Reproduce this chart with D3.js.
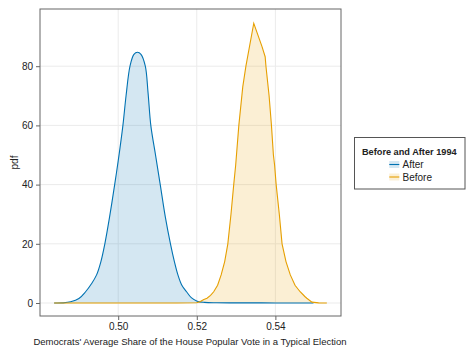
<!DOCTYPE html>
<html><head><meta charset="utf-8">
<script src="https://cdn.jsdelivr.net/npm/d3@7"></script>
<style>
body{margin:0;background:#fff;}
text{font-family:"Liberation Sans",Arial,sans-serif;fill:#222;}
</style></head>
<body><svg id="c" width="474" height="355"></svg>
<script>
const afterX = [0.4837,0.4860,0.4879,0.4900,0.4917,0.4932,0.4945,0.4956,0.4966,0.4978,0.4991,0.5000,0.5012,0.5020,0.5030,0.5040,0.5049,0.5058,0.5069,0.5076,0.5083,0.5095,0.5107,0.5120,0.5133,0.5143,0.5152,0.5162,0.5174,0.5186,0.5201,0.5220,0.5250,0.5300,0.5400,0.5497];
const afterY = [0,0.05,0.4,1.5,3.8,6.5,9.5,14,20,29,40,48,60,70,80,84,84.7,84,80,71,60,50,40,29,20,14,9.5,6,3.8,1.8,0.6,0.2,0.08,0.05,0.02,0];
const beforeX = [0.4837,0.5150,0.5200,0.5209,0.5218,0.5226,0.5235,0.5243,0.5253,0.5262,0.5271,0.5279,0.5287,0.5294,0.5299,0.5307,0.5317,0.5325,0.5345,0.5366,0.5374,0.5376,0.5384,0.5390,0.5395,0.5398,0.5402,0.5410,0.5417,0.5427,0.5438,0.5450,0.5463,0.5475,0.5480,0.5493,0.5510,0.5531];
const beforeY = [0,0,0.1,0.5,1.2,1.6,2.6,3.8,6,9.5,14,20,30,40,46.6,60,73,80,94.5,86.6,83.2,80,70,60,50,46.6,40,30,20,14,9.5,6,3.8,2.2,1.6,0.3,0.05,0];
const xTicks = [0.50,0.52,0.54];
const yTicks = [0,20,40,60,80];
const groups = ["After","Before"];
const colors = ["#0072B2","#E69F00"];
const legendTitle = "Before and After 1994";
const xLabel = "Democrats' Average Share of the House Popular Vote in a Typical Election";
const yLabel = "pdf";

const svg = d3.select("#c");
const L=40,R=341,T=9,B=316;
const x = d3.scaleLinear().domain([0.4801,0.5567]).range([L,R]);
const y = d3.scaleLinear().domain([-4.39,99.32]).range([B,T]);

// grid
svg.append("g").selectAll("line").data(xTicks).join("line")
  .attr("x1",d=>x(d)).attr("x2",d=>x(d)).attr("y1",T).attr("y2",B)
  .attr("stroke","#ebebeb").attr("stroke-width",1);
svg.append("g").selectAll("line").data(yTicks).join("line")
  .attr("y1",d=>y(d)).attr("y2",d=>y(d)).attr("x1",L).attr("x2",R)
  .attr("stroke","#ebebeb").attr("stroke-width",1);

const series = [
  {pts: afterX.map((v,i)=>[v,afterY[i]]), c: colors[0], curve: d3.curveCatmullRom.alpha(0.5)},
  {pts: beforeX.map((v,i)=>[v,beforeY[i]]), c: colors[1], curve: d3.curveLinear}
];
series.forEach(s=>{
  const area = d3.area().x(d=>x(d[0])).y0(y(0)).y1(d=>y(d[1])).curve(s.curve);
  svg.append("path").attr("d",area(s.pts)).attr("fill",s.c).attr("fill-opacity",0.17);
});
series.forEach(s=>{
  const line = d3.line().x(d=>x(d[0])).y(d=>y(d[1])).curve(s.curve);
  svg.append("path").attr("d",line(s.pts)).attr("fill","none").attr("stroke",s.c).attr("stroke-width",1.1);
});

// axes
const xa = svg.append("g").attr("transform",`translate(0,${B})`)
  .call(d3.axisBottom(x).tickValues(xTicks).tickFormat(d3.format(".2f")).tickSize(4).tickPadding(3));
const ya = svg.append("g").attr("transform",`translate(${L},0)`)
  .call(d3.axisLeft(y).tickValues(yTicks).tickSize(4).tickPadding(3));
[xa,ya].forEach(a=>{
  a.select(".domain").remove();
  a.selectAll(".tick line").attr("stroke","#666");
  a.selectAll("text").style("font-size","10px").style("font-family","Liberation Sans, Arial, sans-serif").attr("fill","#222");
});
svg.append("rect").attr("x",L).attr("y",T).attr("width",R-L).attr("height",B-T)
  .attr("fill","none").attr("stroke","#666").attr("stroke-width",1);

svg.append("text").attr("x",190).attr("y",345).attr("text-anchor","middle")
  .style("font-size","9.5px").text(xLabel);
svg.append("text").attr("transform",`translate(18,${(T+B)/2}) rotate(-90)`).attr("text-anchor","middle")
  .style("font-size","10px").text(yLabel);

// legend
const lg = svg.append("g");
lg.append("rect").attr("x",354.5).attr("y",137.5).attr("width",110.5).attr("height",51.5)
  .attr("fill","#fff").attr("stroke","#555").attr("stroke-width",1);
lg.append("text").attr("x",409.3).attr("y",154.5).attr("text-anchor","middle")
  .style("font-size","9.2px").style("font-weight","bold").text(legendTitle);
groups.forEach((g,i)=>{
  const cy = 164.5 + i*12.5;
  lg.append("rect").attr("x",389.3).attr("y",cy-3.5).attr("width",10).attr("height",7)
    .attr("fill",colors[i]).attr("fill-opacity",0.17);
  lg.append("line").attr("x1",389.3).attr("x2",399.3).attr("y1",cy).attr("y2",cy)
    .attr("stroke",colors[i]).attr("stroke-width",1.1);
  lg.append("text").attr("x",402.5).attr("y",cy+3.5).style("font-size","10px").text(g);
});
</script></body></html>
